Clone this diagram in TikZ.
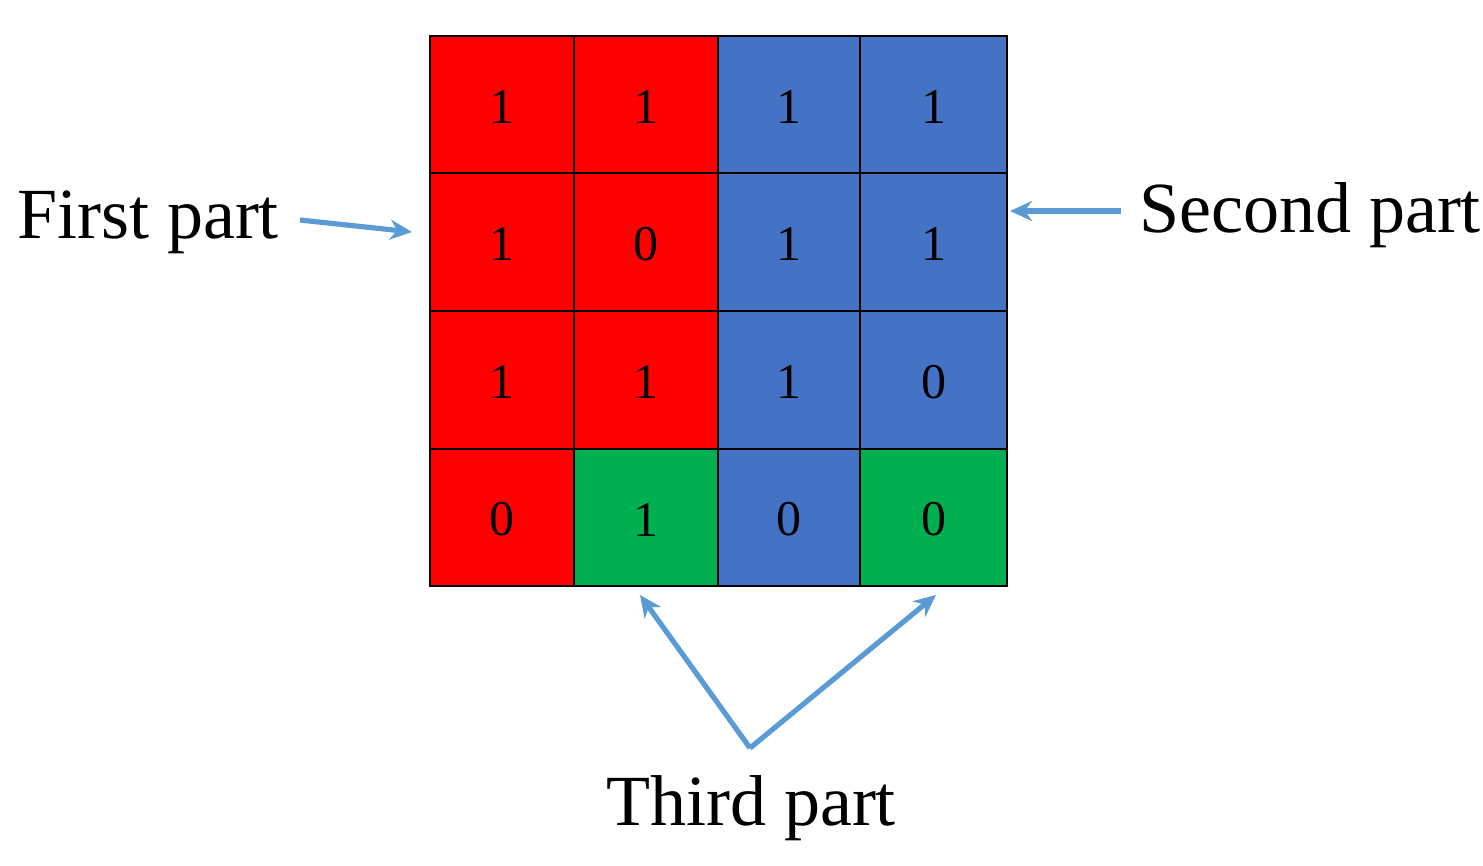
\documentclass[tikz,border=0pt]{standalone}
\usepackage{fontspec}
\setmainfont{Liberation Serif}
\usetikzlibrary{arrows.meta}
\definecolor{cr}{HTML}{FF0000}
\definecolor{cb}{HTML}{4472C4}
\definecolor{cg}{HTML}{00B050}
\definecolor{ca}{HTML}{5B9BD5}
\begin{document}
\begin{tikzpicture}[x=0.5pt,y=-0.5pt,
  cell/.style={draw=black,line width=1.2pt,minimum width=72pt,minimum height=68.5pt,inner sep=0pt,font=\fontsize{25}{25}\selectfont},
  lab/.style={font=\fontsize{36}{36}\selectfont},
  arr/.style={draw=ca,line width=2.6pt,-{Stealth[length=11pt,width=10pt]}}]
\useasboundingbox (0,0) rectangle (1483,866);
\def\xs{{430,574,718,860,1007}}
\def\ys{{36,173,311,449,586}}
\foreach \r/\row in {0/{cr/1,cr/1,cb/1,cb/1},1/{cr/1,cr/0,cb/1,cb/1},2/{cr/1,cr/1,cb/1,cb/0},3/{cr/0,cg/1,cb/0,cg/0}}{
  \foreach \c/\v [count=\k from 0] in \row {
    \pgfmathsetmacro\xa{\xs[\k]}\pgfmathsetmacro\xb{\xs[\k+1]}
    \pgfmathsetmacro\ya{\ys[\r]}\pgfmathsetmacro\yb{\ys[\r+1]}
    \draw[fill=\c,line width=1.2pt] (\xa,\ya) rectangle (\xb,\yb);
    \node[font=\fontsize{25}{25}\selectfont] (n\r\k) at ({(\xa+\xb)/2},{(\ya+\yb)/2+2}) {\v};
  }
}
\node[lab] (first) at (148,222) {First part};
\node[lab] (second) at (1310,215) {Second part};
\node[lab] (third) at (751,808) {Third part};
\coordinate (f1) at (300,220); \coordinate (f2) at (412,232);
\coordinate (s1) at (1121,211); \coordinate (s2) at (1010,211);
\coordinate (t0) at (750,748); \coordinate (t1) at (640,595); \coordinate (t2) at (936,595);
\draw[arr] (f1) -- (f2);
\draw[arr] (s1) -- (s2);
\draw[arr] (t0) -- (t1);
\draw[arr] (t0) -- (t2);
\end{tikzpicture}
\end{document}
